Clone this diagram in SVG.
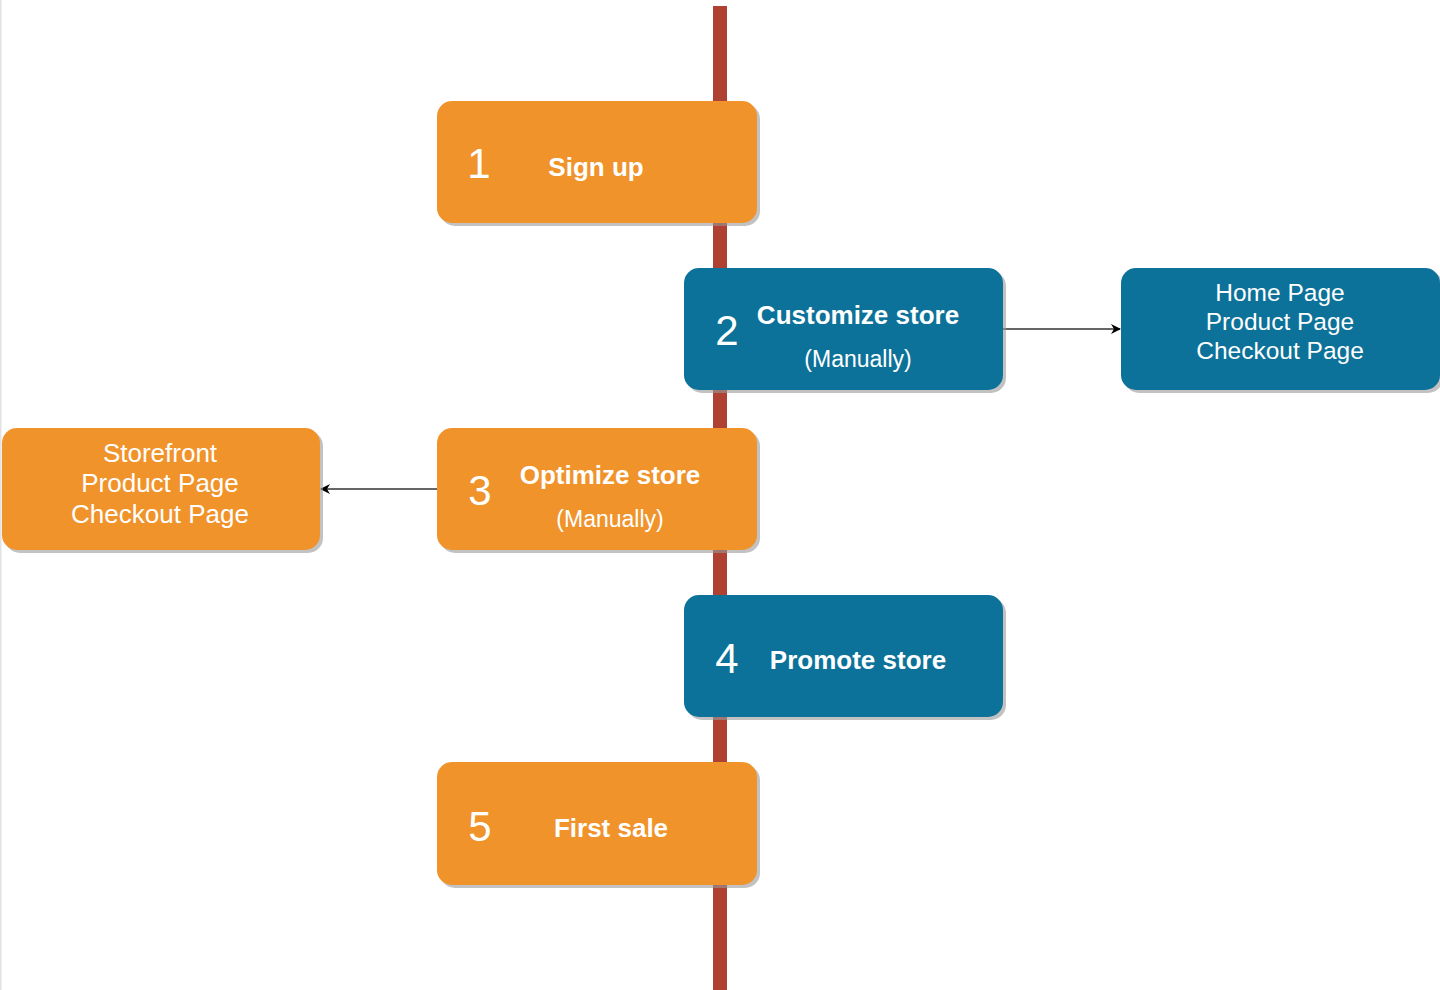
<svg xmlns="http://www.w3.org/2000/svg" width="1440" height="990" viewBox="0 0 1440 990">
<style>
.o{fill:#F0932B}
.b{fill:#0D7299}
.sh{fill:#9a9a9a;opacity:0.6}
text{font-family:"Liberation Sans",Arial,sans-serif;fill:#ffffff;text-anchor:middle}
.num{font-size:42px}
.t{font-size:26px;font-weight:bold}
.s{font-size:23px}
.l{font-size:24.5px}
.ll{font-size:26px}
.c{stroke:#333333;stroke-width:1.3;fill:none}
</style>
<defs>
<marker id="ar" viewBox="0 0 10 10" refX="9" refY="5" markerWidth="10" markerHeight="10" markerUnits="userSpaceOnUse" orient="auto">
<path d="M0,0 L10,5 L0,10 L3,5 Z" fill="#000"/>
</marker>
</defs>
<rect width="1440" height="990" fill="#ffffff"/>
<rect x="0" y="0" width="1.5" height="990" fill="#e2e2e2"/>
<rect id="timeline" x="713" y="6" width="14" height="984" fill="#AE4132"/>
<g id="connectors">
<line class="c" x1="1003" y1="329" x2="1120" y2="329" marker-end="url(#ar)"/>
<line class="c" x1="437" y1="489" x2="321" y2="489" marker-end="url(#ar)"/>
</g>
<g id="n1">
<rect class="sh" x="440" y="104" width="320" height="122" rx="15"/>
<rect class="o" x="437" y="101" width="320" height="122" rx="15"/>
<text class="num" x="479" y="178">1</text>
<text class="t" x="596" y="176">Sign up</text>
</g>
<g id="n2">
<rect class="sh" x="687" y="271" width="319" height="122" rx="15"/>
<rect class="b" x="684" y="268" width="319" height="122" rx="15"/>
<text class="num" x="727" y="345">2</text>
<text class="t" x="858" y="324">Customize store</text>
<text class="s" x="858" y="367">(Manually)</text>
</g>
<g id="n2b">
<rect class="sh" x="1124" y="271" width="319" height="122" rx="15"/>
<rect class="b" x="1121" y="268" width="319" height="122" rx="15"/>
<text class="l" x="1280" y="301">Home Page</text>
<text class="l" x="1280" y="330">Product Page</text>
<text class="l" x="1280" y="359">Checkout Page</text>
</g>
<g id="n3">
<rect class="sh" x="440" y="431" width="320" height="122" rx="15"/>
<rect class="o" x="437" y="428" width="320" height="122" rx="15"/>
<text class="num" x="480" y="505">3</text>
<text class="t" x="610" y="484">Optimize store</text>
<text class="s" x="610" y="527">(Manually)</text>
</g>
<g id="n3b">
<rect class="sh" x="5" y="431" width="318" height="122" rx="15"/>
<rect class="o" x="2" y="428" width="318" height="122" rx="15"/>
<text class="ll" x="160" y="462">Storefront</text>
<text class="ll" x="160" y="492">Product Page</text>
<text class="ll" x="160" y="523">Checkout Page</text>
</g>
<g id="n4">
<rect class="sh" x="687" y="598" width="319" height="122" rx="15"/>
<rect class="b" x="684" y="595" width="319" height="122" rx="15"/>
<text class="num" x="727" y="673">4</text>
<text class="t" x="858" y="669">Promote store</text>
</g>
<g id="n5">
<rect class="sh" x="440" y="765" width="320" height="123" rx="15"/>
<rect class="o" x="437" y="762" width="320" height="123" rx="15"/>
<text class="num" x="480" y="841">5</text>
<text class="t" x="611" y="837">First sale</text>
</g>
</svg>
